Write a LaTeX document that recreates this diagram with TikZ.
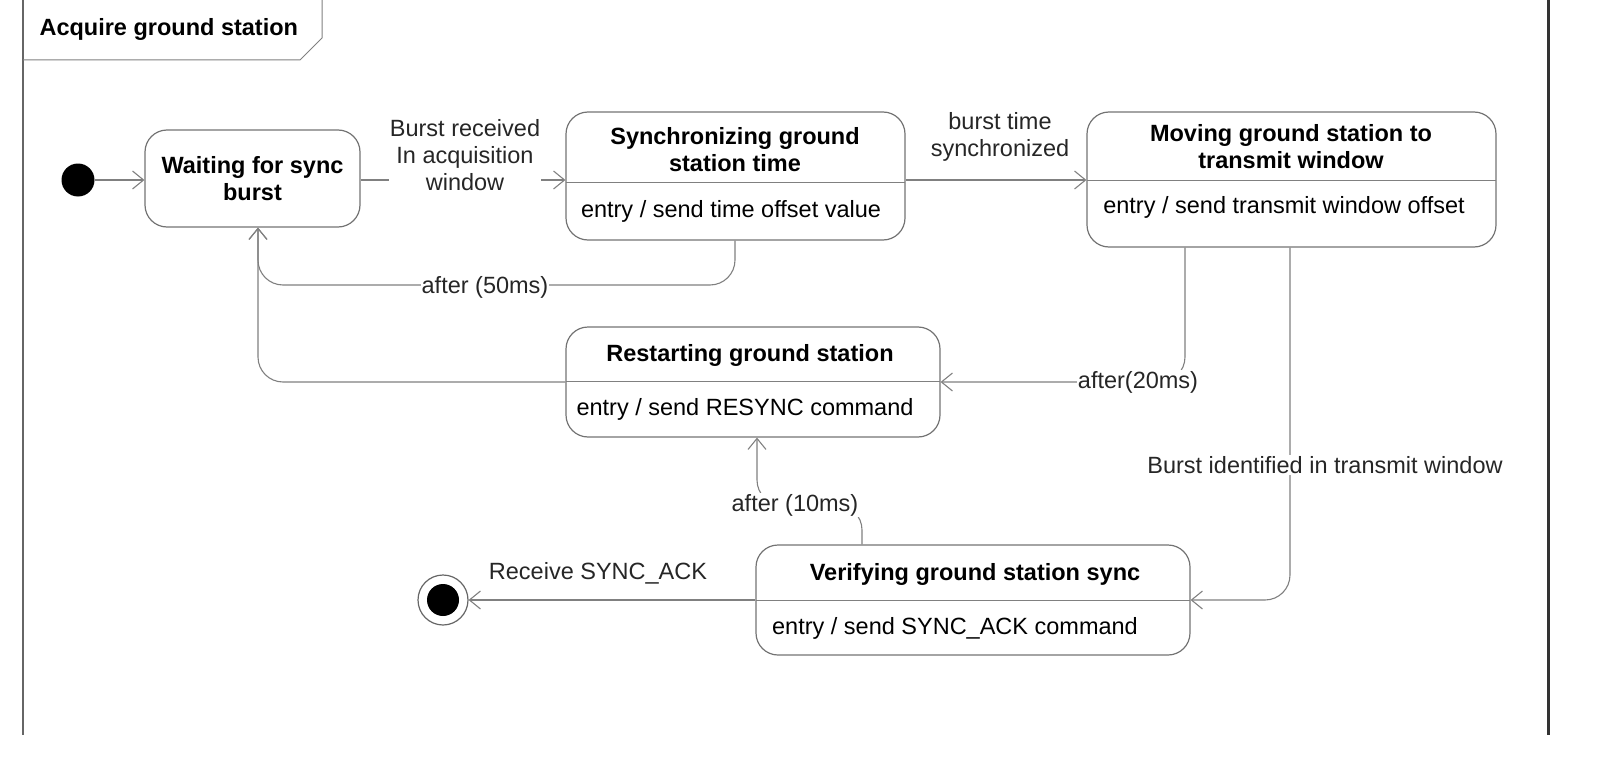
\documentclass[tikz,border=0pt]{standalone}
\usepackage{fontspec}
\setmainfont{Liberation Sans}
\usetikzlibrary{arrows.meta}
\begin{document}
\begin{tikzpicture}[x=1pt,y=-1pt,
  every node/.style={font=\fontsize{23.5}{27}\selectfont},
  st/.style={draw=black!55,line width=1.2pt,rounded corners=22pt,inner sep=0pt},
  ttl/.style={font=\fontsize{23.5}{27}\selectfont\bfseries,align=center},
  tr/.style={draw=black!50,line width=1.1pt,-{Straight Barb[length=11pt,width=18pt]},rounded corners=25pt},
  lbl/.style={fill=white,inner sep=1pt,align=center,text=black!85}]
\useasboundingbox (0,0) rectangle (1618,784);
% frame
\draw[black!60,line width=1.2pt] (23,0) -- (23,735);
\draw[black!80,line width=3pt] (1548,0) -- (1548,735);
\draw[black!50,line width=1pt] (23,60) -- (300,60) -- (322,38) -- (322,0);
\node[font=\fontsize{23.5}{27}\selectfont\bfseries,anchor=west] (title) at (36,29) {Acquire ground station};
% states
\node[st,minimum width=215pt,minimum height=97pt] (wait) at (252.5,178.5) {};
\node[ttl] at (wait.center) {Waiting for sync\\burst};
\node[st,minimum width=339pt,minimum height=128pt] (sync) at (735.5,176) {};
\draw[black!50,line width=1pt] (566,182) -- (905,182);
\node[ttl] at (735,150) {Synchronizing ground\\station time};
\node at (731,211) {entry / send time offset value};
\node[st,minimum width=409pt,minimum height=135pt] (move) at (1291.5,179.5) {};
\draw[black!50,line width=1pt] (1087,180) -- (1496,180);
\node[ttl] at (1291,147) {Moving ground station to\\transmit window};
\node at (1284,207) {entry / send transmit window offset};
\node[st,minimum width=374pt,minimum height=110pt] (rest) at (753,382) {};
\draw[black!50,line width=1pt] (566,381) -- (940,381);
\node[ttl] at (750,355) {Restarting ground station};
\node at (745,409) {entry / send RESYNC command};
\node[st,minimum width=434pt,minimum height=110pt] (ver) at (973,600) {};
\draw[black!50,line width=1pt] (756,600) -- (1190,600);
\node[ttl] at (975,574) {Verifying ground station sync};
\node at (955,628) {entry / send SYNC\_ACK command};
% pseudo states
\node[circle,fill=black,minimum size=33pt,inner sep=0pt] (init) at (78,180) {};
\node[circle,draw=black!60,line width=1.2pt,minimum size=50pt,inner sep=0pt] (fin) at (443,600) {};
\node[circle,fill=black,minimum size=32pt,inner sep=0pt] at (fin.center) {};
% transitions
\draw[tr] (init) -- (wait.west |- init);
\draw[tr] (wait.east |- 0,180) -- (sync.west |- 0,180);
\node[lbl] at (465,155) {Burst received\\In acquisition\\window};
\draw[tr] (sync.east |- 0,180) -- (move.west |- 0,180);
\node[lbl] at (1000,137) {burst time\\synchronized};
\draw[tr] (sync.south -| 735,0) |- (258,285) -- (wait.south -| 258,0);
\node[lbl] at (485,287) {after (50ms)};
\draw[tr] (rest.west) -| (wait.south -| 258,0);
\draw[tr] (move.south -| 1185,0) |- (rest.east);
\node[lbl] at (1138,382) {after(20ms)};
\draw[tr] (move.south -| 1290,0) |- (ver.east);
\node[lbl] at (1325,465) {Burst identified in transmit window};
\draw[tr] (ver.north -| 862,0) |- (757,505) -- (rest.south -| 757,0);
\node[lbl] at (795,505) {after (10ms)};
\draw[tr] (ver.west) -- (fin.east);
\node[lbl] at (598,573) {Receive SYNC\_ACK};
\end{tikzpicture}
\end{document}
